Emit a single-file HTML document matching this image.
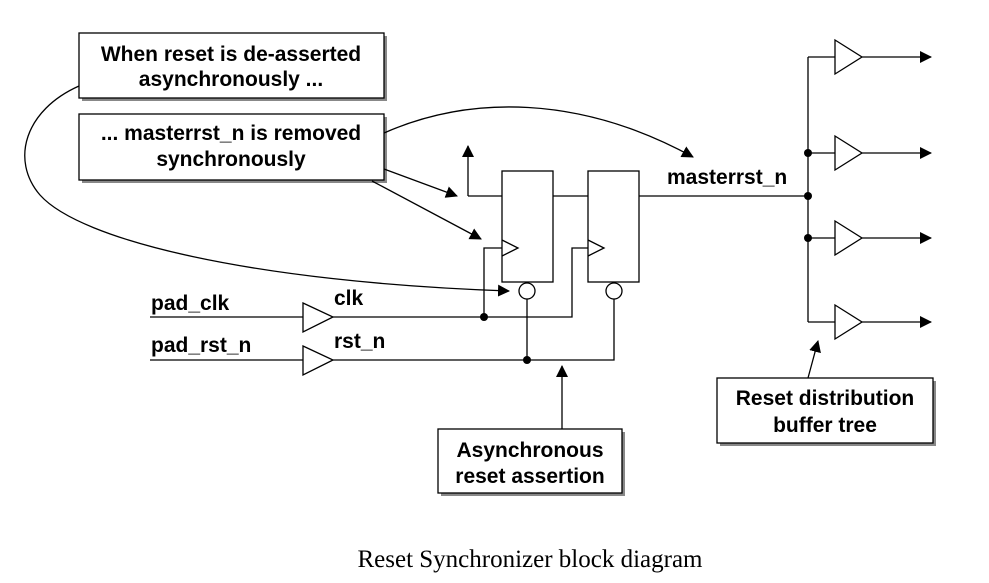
<!DOCTYPE html>
<html><head><style>
body{margin:0;background:#fff}
svg{display:block}
.b{font-family:"Liberation Sans",Arial,sans-serif;font-weight:bold;font-size:21px;fill:#000}
</style></head><body>
<svg width="989" height="583" viewBox="0 0 989 583" xmlns="http://www.w3.org/2000/svg">
<defs>
<marker id="a" markerWidth="12" markerHeight="12" refX="11" refY="6" orient="auto" markerUnits="userSpaceOnUse"><path d="M0,0 L12,6 L0,12 z" fill="#000"/></marker>
</defs>
<g stroke="#000" stroke-width="1.3" fill="none">
<rect x="82" y="36" width="305" height="65" fill="#888" stroke="none"/>
<rect x="79" y="33" width="305" height="65" fill="#fff"/>
<rect x="82" y="117" width="305" height="66" fill="#888" stroke="none"/>
<rect x="79" y="114" width="305" height="66" fill="#fff"/>
<rect x="441" y="432" width="184" height="64" fill="#888" stroke="none"/>
<rect x="438" y="429" width="184" height="64" fill="#fff"/>
<rect x="720" y="381" width="216" height="65" fill="#888" stroke="none"/>
<rect x="717" y="378" width="216" height="65" fill="#fff"/>
<rect x="502" y="171" width="51" height="111"/>
<rect x="588" y="171" width="51" height="111"/>
<path d="M502,240 L518,248 L502,256"/>
<path d="M588,240 L604,248 L588,256"/>
<circle cx="527" cy="291" r="8"/>
<circle cx="614" cy="291" r="8"/>
<path d="M468,196 L502,196 M553,196 L588,196 M639,196 L808,196"/>
<path d="M468,196 L468,146" marker-end="url(#a)"/>
<path d="M150,317 L303,317"/>
<path d="M303,303 L333,317 L303,332 z"/>
<path d="M333,317 L572,317 L572,248 L588,248"/>
<path d="M484,317 L484,248 L502,248"/>
<path d="M150,360 L303,360"/>
<path d="M303,346 L333,360 L303,375 z"/>
<path d="M333,360 L614,360 L614,299"/>
<path d="M527,360 L527,299"/>
<path d="M808,57 L808,322"/>
<path d="M808,57 L835,57 M808,153 L835,153 M808,238 L835,238 M808,322 L835,322"/>
<path d="M835,40 L862,57 L835,74 z M835,136 L862,153 L835,170 z M835,221 L862,238 L835,255 z M835,305 L862,322 L835,339 z"/>
<path d="M862,57 L931,57" marker-end="url(#a)"/>
<path d="M862,153 L931,153" marker-end="url(#a)"/>
<path d="M862,238 L931,238" marker-end="url(#a)"/>
<path d="M862,322 L931,322" marker-end="url(#a)"/>
<path d="M384,133 C470,95 580,95 693,157" marker-end="url(#a)"/>
<path d="M384,169 L457,196" marker-end="url(#a)"/>
<path d="M372,181 L481,239" marker-end="url(#a)"/>
<path d="M79,86 C25,110 10,160 40,195 C80,240 250,282 509,291" marker-end="url(#a)"/>
<path d="M562,429 L562,366" marker-end="url(#a)"/>
<path d="M808,378 L818,341" marker-end="url(#a)"/>
</g>
<g fill="#000">
<circle cx="484" cy="317" r="4"/>
<circle cx="527" cy="360" r="4"/>
<circle cx="808" cy="153" r="4"/>
<circle cx="808" cy="196" r="4"/>
<circle cx="808" cy="238" r="4"/>
</g>
<g class="b" text-anchor="middle">
<text x="231" y="61">When reset is de-asserted</text>
<text x="231" y="86">asynchronously  ...</text>
<text x="231" y="140">... masterrst_n is removed</text>
<text x="231" y="166">synchronously</text>
<text x="530" y="457">Asynchronous</text>
<text x="530" y="483">reset assertion</text>
<text x="825" y="405">Reset distribution</text>
<text x="825" y="432">buffer tree</text>
</g>
<g class="b">
<text x="151" y="310">pad_clk</text>
<text x="151" y="352">pad_rst_n</text>
<text x="334" y="305">clk</text>
<text x="334" y="348">rst_n</text>
<text x="667" y="184">masterrst_n</text>
</g>
<text x="530" y="567" text-anchor="middle" font-family="Liberation Serif,serif" font-size="25">Reset Synchronizer block diagram</text>
</svg>
</body></html>
